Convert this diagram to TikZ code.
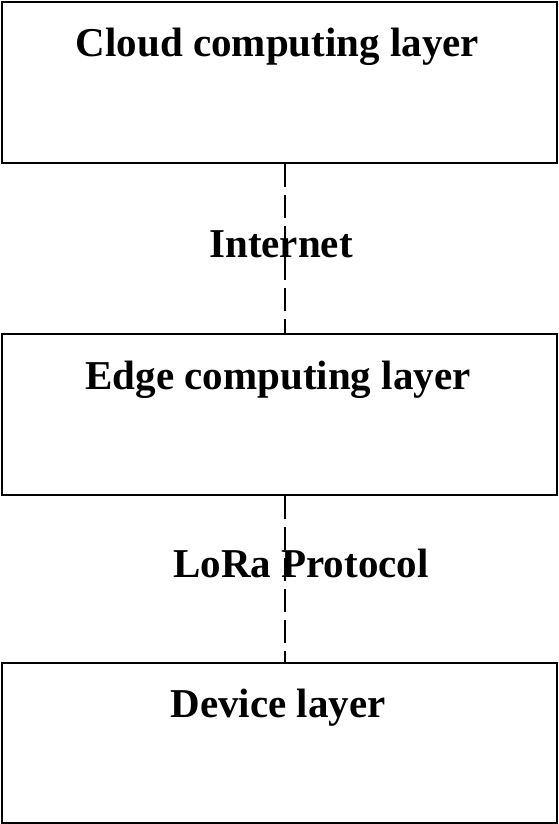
\documentclass[tikz,border=0pt]{standalone}
\usepackage{fontspec}
\setmainfont{Liberation Serif}
\begin{document}
\begin{tikzpicture}[x=1pt,y=-1pt,
  layerbox/.style={draw=black, line width=1.5pt, inner sep=0pt, minimum width=555pt},
  title/.style={anchor=base, inner sep=0pt, font=\fontsize{41}{45}\selectfont\bfseries},
  link/.style={draw=black, line width=1.3pt, dash pattern=on 23pt off 8pt}]
\useasboundingbox (0,0) rectangle (559,824);
\node[layerbox, minimum height=161pt] (cloud) at (279.5,82.5) {};
\node[layerbox, minimum height=161pt] (edge) at (279.5,414.5) {};
\node[layerbox, minimum height=160pt] (device) at (279.5,743) {};
\node[title] (cloudt) at (277.5,57) {Cloud computing layer};
\node[title] (edget) at (278,389) {Edge computing layer};
\node[title] (devicet) at (278,717) {Device layer};
\node[title] (inet) at (281,257) {Internet};
\node[title] (lora) at (301,577) {LoRa Protocol};
\draw[link] ([xshift=5.5pt]cloud.south) -- ([xshift=5.5pt]edge.north);
\draw[link] ([xshift=5.5pt]edge.south) -- ([xshift=5.5pt]device.north);
\end{tikzpicture}
\end{document}
